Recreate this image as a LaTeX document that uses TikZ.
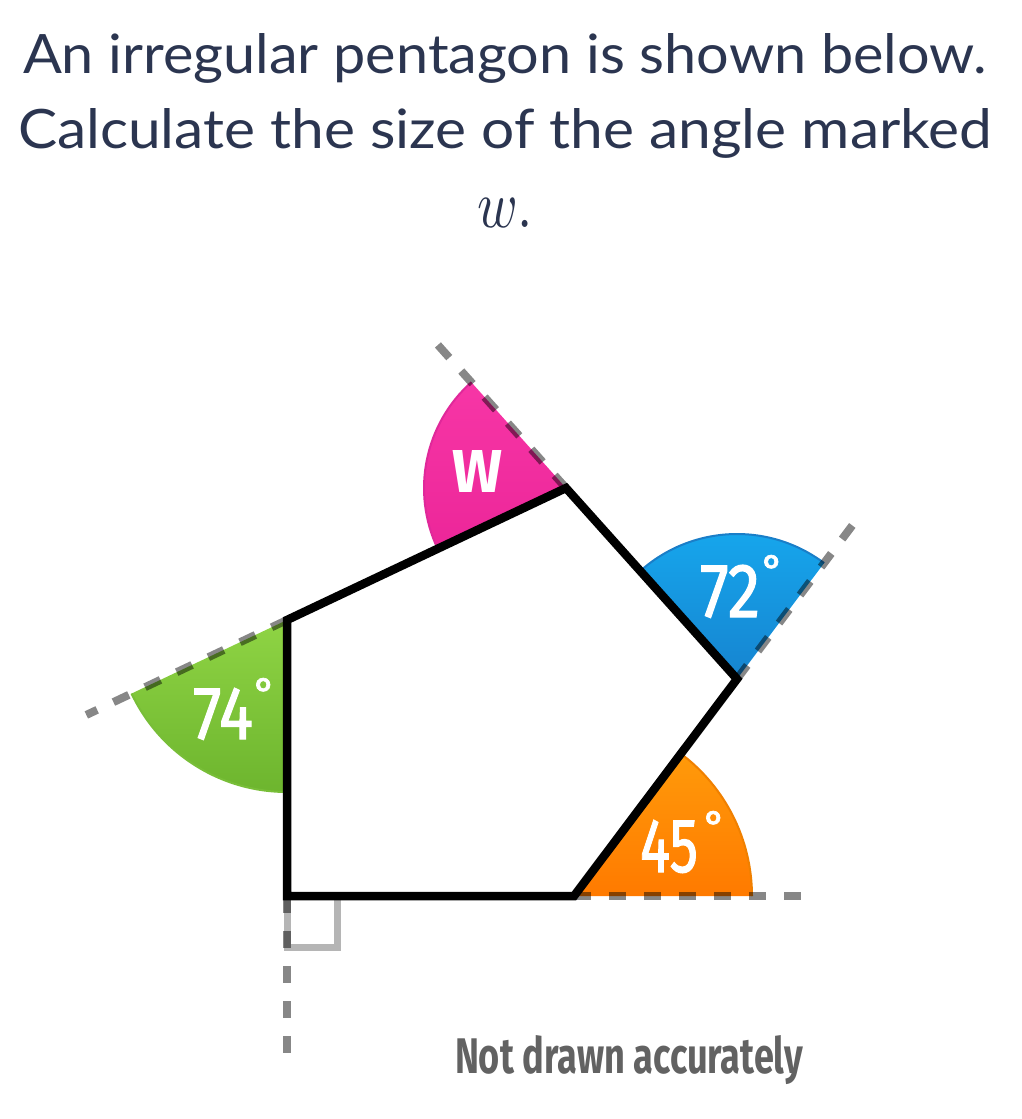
\documentclass[tikz,border=0pt]{standalone}
\usepackage{fontspec}
\usepackage{graphicx}
\usetikzlibrary{calc}
\newfontfamily\titlefont{Lato}
\newfontfamily\labfont{Fira Sans}
\newfontfamily\labmed[FakeBold=1.6]{Fira Sans}
\definecolor{titlecol}{HTML}{2B3550}
\definecolor{notecol}{HTML}{626262}
\definecolor{gtop}{HTML}{8FD444}\definecolor{gbot}{HTML}{6DB52E}\definecolor{grim}{HTML}{78BE38}
\definecolor{ptop}{HTML}{F736A6}\definecolor{pbot}{HTML}{EC2699}\definecolor{prim}{HTML}{E0289A}
\definecolor{btop}{HTML}{16A8EE}\definecolor{bbot}{HTML}{1684D0}\definecolor{brim}{HTML}{1A7EC8}
\definecolor{otop}{HTML}{FF9A0A}\definecolor{obot}{HTML}{FF7A00}\definecolor{orim}{HTML}{F08000}
\definecolor{sqcol}{HTML}{B5B5B5}
\tikzset{
  dashline/.style={line width=8pt, black, opacity=0.47, dash pattern=on 17pt off 18pt},
  pentline/.style={line width=8.5pt, black, line join=miter},
  lab/.style={inner sep=0pt, outer sep=0pt, text=white, font=\labmed},
  labw/.style={inner sep=0pt, outer sep=0pt, text=white, font=\labfont\bfseries},
  deg/.style={inner sep=0pt, outer sep=0pt, text=white, font=\labmed\fontsize{42}{42}\selectfont},
  txt/.style={inner sep=0pt, outer sep=0pt}
}
\begin{document}
\begin{tikzpicture}[x=1pt,y=1pt]
\useasboundingbox (0,0) rectangle (1022,-1119);
\fill[white] (0,0) rectangle (1022,-1119);
% vertices (pixel coordinates, y negated)
\coordinate (A) at (287,-896);
\coordinate (B) at (287,-620);
\coordinate (C) at (566,-488);
\coordinate (D) at (737,-679);
\coordinate (E) at (574,-896);
% dashed ends
\coordinate (gB) at ($(B)+(205.32:222)$);
\coordinate (pC) at ($(C)+(131.84:199)$);
\coordinate (bD) at ($(D)+(53.09:193)$);
\coordinate (oE) at (803,-896);
\coordinate (vA) at (287,-1054);
% sectors
\shade[top color=gtop, bottom color=gbot] (B) -- ++(205.32:172) arc[start angle=205.32, end angle=270, radius=172pt] -- cycle;
\draw[grim, line width=2pt] ($(B)+(205.32:172)$) arc[start angle=205.32, end angle=270, radius=172pt];
\shade[top color=ptop, bottom color=pbot] (C) -- ++(131.84:142) arc[start angle=131.84, end angle=205.32, radius=142pt] -- cycle;
\draw[prim, line width=2pt] ($(C)+(131.84:142)$) arc[start angle=131.84, end angle=205.32, radius=142pt];
\shade[top color=btop, bottom color=bbot] (D) -- ++(53.09:145) arc[start angle=53.09, end angle=131.84, radius=145pt] -- cycle;
\draw[brim, line width=2pt] ($(D)+(53.09:145)$) arc[start angle=53.09, end angle=131.84, radius=145pt];
\shade[top color=otop, bottom color=obot] (E) -- ++(0:178) arc[start angle=0, end angle=53.09, radius=178pt] -- cycle;
\draw[orim, line width=2pt] ($(E)+(0:178)$) arc[start angle=0, end angle=53.09, radius=178pt];
% right angle marker
\draw[sqcol, line width=7pt] (A) rectangle (337,-947);
% dashed extensions
\draw[dashline] (B) -- (gB);
\draw[dashline] (C) -- (pC);
\draw[dashline] (D) -- (bD);
\draw[dashline] (E) -- (oE);
\draw[dashline] (A) -- (vA);
% pentagon
\draw[pentline] (A) -- (B) -- (C) -- (D) -- (E) -- cycle;
% angle labels
\node[lab, anchor=base west] (l74) at (193,-739) {\resizebox{60pt}{51pt}{74}};
\node[deg, anchor=north west] (d74) at (254,-678) {°};
\node[lab, anchor=base west] (l72) at (700,-617) {\resizebox{60pt}{52pt}{72}};
\node[deg, anchor=north west] (d72) at (762,-555) {°};
\node[lab, anchor=base west] (l45) at (640,-872) {\resizebox{58pt}{52pt}{45}};
\node[deg, anchor=north west] (d45) at (704,-811) {°};
\node[labw, anchor=base west] (lw) at (452,-492) {\resizebox{50pt}{42pt}{W}};
% texts
\node[txt, anchor=base west, text=titlecol] (t1) at (23,-73) {\resizebox{964pt}{40pt}{\titlefont An irregular pentagon is shown below.}};
\node[txt, anchor=base west, text=titlecol] (t2) at (18,-148) {\resizebox{974pt}{40pt}{\titlefont Calculate the size of the angle marked}};
\node[txt, anchor=base west, text=titlecol] (t3) at (477,-227) {\resizebox{56pt}{29pt}{$w.$}};
\node[txt, anchor=base west, text=notecol] (note) at (455,-1073) {\resizebox{348pt}{38pt}{\labfont\bfseries Not drawn accurately}};
\end{tikzpicture}
\end{document}
